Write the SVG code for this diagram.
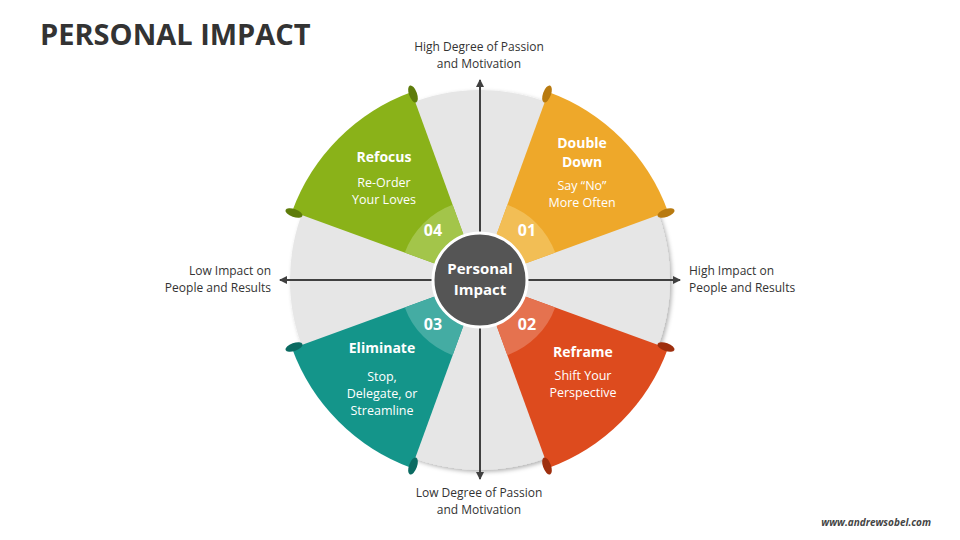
<svg xmlns="http://www.w3.org/2000/svg" width="960" height="540" viewBox="0 0 960 540">
<defs>
<style>
text{font-family:"Open Sans","Noto Sans",sans-serif;text-anchor:middle}
.t{font-weight:bold;font-size:14px;fill:#fff}
.s{font-size:12.5px;fill:#fff}
.n{font-weight:bold;font-size:16px;fill:#fff}
.l{font-size:12px;fill:#333}
.ax{stroke:#404040;stroke-width:2;fill:none;marker-end:url(#ah)}
</style>
<marker id="ah" markerWidth="8" markerHeight="8" refX="7" refY="4" orient="auto" markerUnits="userSpaceOnUse"><path d="M0,0L8,4L0,8Z" fill="#404040"/></marker>
<filter id="sh" x="-10%" y="-10%" width="120%" height="120%"><feDropShadow dx="2" dy="2" stdDeviation="2" flood-opacity="0.3"/></filter>
</defs>
<rect width="960" height="540" fill="#fff"/>
<text x="40" y="45" style="text-anchor:start;font-family:'Open Sans',sans-serif;font-weight:bold;font-size:29px;fill:#333">PERSONAL IMPACT</text>
<circle cx="480" cy="280" r="190" fill="#E6E6E6" filter="url(#sh)"/>
<g id="doubledown">
<path d="M480,280L548.4,92.1A200,200 0 0 1 667.9,211.6Z" fill="#EEA82A"/>
<path d="M480,280L507.4,204.8A80,80 0 0 1 555.2,252.6Z" fill="#F2BE55"/>
<ellipse cx="547" cy="94" rx="4" ry="9" transform="rotate(20 547 94)" fill="#B87A10"/>
<ellipse cx="666" cy="213" rx="4" ry="9" transform="rotate(70 666 213)" fill="#B87A10"/>
<text class="t" x="582" y="148">Double</text><text class="t" x="582" y="167">Down</text>
<text class="s" x="582" y="190">Say “No”</text><text class="s" x="582" y="207">More Often</text>
<text class="n" x="527" y="236">01</text>
</g>
<g id="reframe">
<path d="M480,280L667.9,348.4A200,200 0 0 1 548.4,467.9Z" fill="#DD4B1E"/>
<path d="M480,280L555.2,307.4A80,80 0 0 1 507.4,355.2Z" fill="#E5724F"/>
<ellipse cx="666" cy="347" rx="4" ry="9" transform="rotate(110 666 347)" fill="#9E2F0E"/>
<ellipse cx="547" cy="466" rx="4" ry="9" transform="rotate(160 547 466)" fill="#9E2F0E"/>
<text class="t" x="583" y="357">Reframe</text>
<text class="s" x="583" y="380">Shift Your</text><text class="s" x="583" y="397">Perspective</text>
<text class="n" x="527" y="330">02</text>
</g>
<g id="eliminate">
<path d="M480,280L411.6,467.9A200,200 0 0 1 292.1,348.4Z" fill="#14958A"/>
<path d="M480,280L452.6,355.2A80,80 0 0 1 404.8,307.4Z" fill="#44ACA3"/>
<ellipse cx="413" cy="466" rx="4" ry="9" transform="rotate(20 413 466)" fill="#0B6B62"/>
<ellipse cx="294" cy="347" rx="4" ry="9" transform="rotate(70 294 347)" fill="#0B6B62"/>
<text class="t" x="382" y="353">Eliminate</text>
<text class="s" x="382" y="381">Stop,</text><text class="s" x="382" y="398">Delegate, or</text><text class="s" x="382" y="415">Streamline</text>
<text class="n" x="433" y="330">03</text>
</g>
<g id="refocus">
<path d="M480,280L292.1,211.6A200,200 0 0 1 411.6,92.1Z" fill="#8AB219"/>
<path d="M480,280L404.8,252.6A80,80 0 0 1 452.6,204.8Z" fill="#A3C54A"/>
<ellipse cx="294" cy="213" rx="4" ry="9" transform="rotate(110 294 213)" fill="#5E7C0B"/>
<ellipse cx="413" cy="94" rx="4" ry="9" transform="rotate(160 413 94)" fill="#5E7C0B"/>
<text class="t" x="384" y="162">Refocus</text>
<text class="s" x="384" y="187">Re-Order</text><text class="s" x="384" y="204">Your Loves</text>
<text class="n" x="433" y="236">04</text>
</g>
<g id="connectors">
<line class="ax" x1="480" y1="280" x2="480" y2="80"/>
<line class="ax" x1="480" y1="280" x2="480" y2="479"/>
<line class="ax" x1="480" y1="280" x2="680" y2="280"/>
<line class="ax" x1="480" y1="280" x2="280" y2="280"/>
</g>
<g id="center">
<circle cx="480" cy="280" r="47" fill="#555" stroke="#fff" stroke-width="3"/>
<text class="t" x="480" y="274" style="font-size:15px">Personal</text>
<text class="t" x="480" y="295" style="font-size:15px">Impact</text>
</g>
<g id="labels">
<text class="l" x="479" y="51">High Degree of Passion</text><text class="l" x="479" y="68">and Motivation</text>
<text class="l" x="479" y="497">Low Degree of Passion</text><text class="l" x="479" y="514">and Motivation</text>
<text class="l" x="689" y="275" style="text-anchor:start">High Impact on</text><text class="l" x="689" y="292" style="text-anchor:start">People and Results</text>
<text class="l" x="271" y="275" style="text-anchor:end">Low Impact on</text><text class="l" x="271" y="292" style="text-anchor:end">People and Results</text>
</g>
<text x="931" y="526" style="text-anchor:end;font-size:10px;font-style:italic;font-weight:bold;fill:#444;font-family:'Open Sans',sans-serif">www.andrewsobel.com</text>
</svg>
